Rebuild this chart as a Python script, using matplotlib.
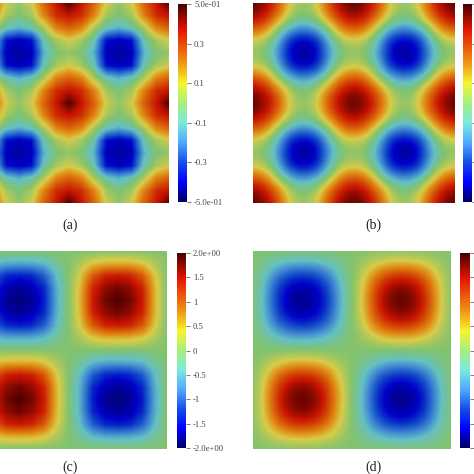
import numpy as np
import matplotlib
matplotlib.use('Agg')
from matplotlib import pyplot as plt
from matplotlib.colors import LinearSegmentedColormap, Normalize
from matplotlib.cm import ScalarMappable

# one repeating cell, red peak at [0,0], blue peak at [4,4]
cell_a = [
    [0.50, 0.37, 0.25, 0.09, 0.02],
    [0.37, 0.33, 0.20, 0.04, -0.01],
    [0.25, 0.20, 0.05, -0.07, -0.13],
    [0.09, 0.04, -0.07, -0.38, -0.42],
    [0.02, -0.01, -0.13, -0.42, -0.45],
]
cell_b = [
    [0.50, 0.44, 0.28, 0.08, 0.01],
    [0.44, 0.37, 0.22, 0.04, -0.01],
    [0.28, 0.22, 0.02, -0.11, -0.18],
    [0.08, 0.04, -0.11, -0.38, -0.43],
    [0.01, -0.01, -0.18, -0.43, -0.47],
]
# quarter of one lobe, edge at [0,*], lobe centre at [4,4]
lobe_c = [
    [0.00, 0.00, 0.00, 0.00, 0.00],
    [0.00, 0.20, 0.44, 0.54, 0.56],
    [0.00, 0.44, 1.05, 1.38, 1.45],
    [0.00, 0.54, 1.38, 1.72, 1.85],
    [0.00, 0.56, 1.45, 1.85, 2.00],
]
lobe_d = [
    [0.00, 0.00, 0.00, 0.00, 0.00],
    [0.00, 0.15, 0.35, 0.48, 0.52],
    [0.00, 0.35, 0.90, 1.24, 1.34],
    [0.00, 0.48, 1.24, 1.68, 1.82],
    [0.00, 0.52, 1.34, 1.82, 1.98],
]

ticks_a = [0.5, 0.3, 0.1, -0.1, -0.3, -0.5]
labels_a = ['5.0e-01', '0.3', '0.1', '-0.1', '-0.3', '-5.0e-01']
ticks_c = [2, 1.5, 1, 0.5, 0, -0.5, -1, -1.5, -2]
labels_c = ['2.0e+00', '1.5', '1', '0.5', '0', '-0.5', '-1', '-1.5', '-2.0e+00']

stops_t = [0, 0.1, 0.2, 0.3, 0.4, 0.5, 0.6, 0.7, 0.87, 1]
field_rgb = ['#00007a', '#0000c8', '#1046c8', '#3c82d2', '#64c0c4', '#82c36e',
             '#d8cc48', '#e08210', '#c81400', '#500000']
bar_rgb = ['#000064', '#0000ff', '#1450e6', '#50aaff', '#78ebdc', '#a5f07d',
           '#f5f52d', '#f09614', '#e61400', '#460000']
cmap_field = LinearSegmentedColormap.from_list('field', list(zip(stops_t, field_rgb)))
cmap_bar = LinearSegmentedColormap.from_list('bar', list(zip(stops_t, bar_rgb)))


def tile_cell(cell):
    q = np.array(cell)
    row = np.vstack([q, q[-2::-1]])
    one = np.hstack([row, row[:, -2::-1]])
    return np.vstack([np.hstack([one, one[:, 1:]]), np.hstack([one, one[:, 1:]])[1:]])


def tile_lobe(lobe):
    q = np.array(lobe)
    row = np.vstack([q, q[-2::-1]])
    one = np.hstack([row, row[:, -2::-1]])
    top = np.hstack([-one, one[:, 1:]])
    bottom = np.hstack([one, -one[:, 1:]])
    return np.vstack([top, bottom[1:]])


def px_axes(fig, x0, y0, x1, y1):
    return fig.add_axes([x0 / 474, 1 - y1 / 474, (x1 - x0) / 474, (y1 - y0) / 474])


def panel(fig, data, vmax, box, bar, caption, capx, capy, interp, ticks=None, labels=None):
    ax = px_axes(fig, *box)
    ax.imshow(data, cmap=cmap_field, vmin=-vmax, vmax=vmax, interpolation=interp, aspect='auto')
    ax.set_xlim(0, data.shape[1] - 1)
    ax.set_ylim(data.shape[0] - 1, 0)
    ax.axis('off')

    cax = px_axes(fig, *bar)
    sm = ScalarMappable(norm=Normalize(-vmax, vmax), cmap=cmap_bar)
    cb = fig.colorbar(sm, cax=cax)
    cb.outline.set_visible(False)
    tick_vals = ticks if ticks is not None else np.linspace(-vmax, vmax, 6 if vmax < 1 else 9)
    cb.set_ticks(tick_vals)
    cb.set_ticklabels(labels if labels is not None else [''] * len(tick_vals))
    cax.tick_params(length=3, width=0.6, color='#666666', labelsize=6.2, pad=2, labelcolor='#444444')
    for t in cax.get_yticklabels():
        t.set_fontfamily('Liberation Serif')
    fig.text(capx / 474, 1 - capy / 474, caption, ha='center', va='center',
             family='Liberation Serif', fontsize=10, color='#222222')


fig = plt.figure(figsize=(4.74, 4.74), dpi=100)
panel(fig, tile_cell(cell_a), 0.5, (-31, 3, 169, 203), (178, 4, 187, 202), '(a)', 70, 225, 'bilinear', ticks_a, labels_a)
panel(fig, tile_cell(cell_b), 0.5, (253, 3, 454, 203), (463, 4, 472, 202), '(b)', 373, 225, 'bicubic')
panel(fig, tile_lobe(lobe_c), 2, (-30, 251, 167, 449), (177, 253, 186, 448), '(c)', 70, 467, 'bilinear', ticks_c, labels_c)
panel(fig, tile_lobe(lobe_d), 2, (253, 251, 451, 449), (460, 253, 470, 448), '(d)', 373, 467, 'bicubic')
fig.savefig('out.png', dpi=100)
